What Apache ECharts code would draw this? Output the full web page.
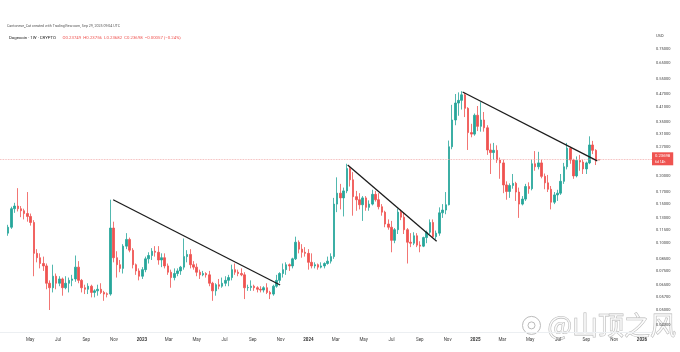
<!DOCTYPE html>
<html>
<head>
<meta charset="utf-8">
<title>Dogecoin 1W</title>
<script src="https://cdn.jsdelivr.net/npm/echarts@6/dist/echarts.min.js"></script>
<style>
  html, body { margin: 0; padding: 0; background: #fff; }
  #chart { width: 680px; height: 352px; }
</style>
</head>
<body>
<div id="chart"></div>
<script>
// weekly candles: [week start, open, close, low, high]
var candles = [
    ['2022-03-14', 0.111, 0.118, 0.108, 0.121],
    ['2022-03-21', 0.118, 0.143, 0.116, 0.146],
    ['2022-03-28', 0.143, 0.147, 0.137, 0.152],
    ['2022-04-04', 0.147, 0.143, 0.139, 0.177],
    ['2022-04-11', 0.143, 0.140, 0.131, 0.147],
    ['2022-04-18', 0.140, 0.136, 0.128, 0.143],
    ['2022-04-25', 0.136, 0.132, 0.125, 0.170],
    ['2022-05-02', 0.132, 0.124, 0.120, 0.136],
    ['2022-05-09', 0.124, 0.090, 0.071, 0.127],
    ['2022-05-16', 0.090, 0.086, 0.082, 0.094],
    ['2022-05-23', 0.086, 0.081, 0.077, 0.090],
    ['2022-05-30', 0.081, 0.079, 0.075, 0.087],
    ['2022-06-06', 0.079, 0.066, 0.062, 0.081],
    ['2022-06-13', 0.066, 0.063, 0.050, 0.068],
    ['2022-06-20', 0.063, 0.071, 0.060, 0.080],
    ['2022-06-27', 0.071, 0.066, 0.062, 0.073],
    ['2022-07-04', 0.066, 0.069, 0.064, 0.071],
    ['2022-07-11', 0.069, 0.063, 0.058, 0.070],
    ['2022-07-18', 0.063, 0.066, 0.062, 0.071],
    ['2022-07-25', 0.066, 0.068, 0.060, 0.070],
    ['2022-08-01', 0.068, 0.069, 0.064, 0.072],
    ['2022-08-08', 0.069, 0.078, 0.067, 0.088],
    ['2022-08-15', 0.078, 0.068, 0.066, 0.083],
    ['2022-08-22', 0.068, 0.063, 0.060, 0.069],
    ['2022-08-29', 0.063, 0.062, 0.059, 0.065],
    ['2022-09-05', 0.062, 0.064, 0.059, 0.066],
    ['2022-09-12', 0.064, 0.060, 0.057, 0.065],
    ['2022-09-19', 0.060, 0.061, 0.057, 0.062],
    ['2022-09-26', 0.061, 0.062, 0.058, 0.065],
    ['2022-10-03', 0.062, 0.060, 0.059, 0.066],
    ['2022-10-10', 0.060, 0.059, 0.055, 0.061],
    ['2022-10-17', 0.0592, 0.0588, 0.057, 0.060],
    ['2022-10-24', 0.059, 0.117, 0.058, 0.157],
    ['2022-10-31', 0.117, 0.086, 0.082, 0.125],
    ['2022-11-07', 0.086, 0.080, 0.070, 0.092],
    ['2022-11-14', 0.080, 0.077, 0.074, 0.084],
    ['2022-11-21', 0.077, 0.097, 0.073, 0.099],
    ['2022-11-28', 0.097, 0.104, 0.094, 0.111],
    ['2022-12-05', 0.104, 0.093, 0.091, 0.106],
    ['2022-12-12', 0.093, 0.080, 0.077, 0.095],
    ['2022-12-19', 0.080, 0.075, 0.072, 0.081],
    ['2022-12-26', 0.075, 0.071, 0.068, 0.077],
    ['2023-01-02', 0.071, 0.076, 0.069, 0.078],
    ['2023-01-09', 0.076, 0.085, 0.074, 0.087],
    ['2023-01-16', 0.085, 0.088, 0.081, 0.091],
    ['2023-01-23', 0.088, 0.092, 0.084, 0.095],
    ['2023-01-30', 0.092, 0.091, 0.087, 0.097],
    ['2023-02-06', 0.091, 0.084, 0.080, 0.097],
    ['2023-02-13', 0.084, 0.086, 0.078, 0.090],
    ['2023-02-20', 0.086, 0.079, 0.077, 0.090],
    ['2023-02-27', 0.079, 0.074, 0.072, 0.081],
    ['2023-03-06', 0.074, 0.070, 0.063, 0.076],
    ['2023-03-13', 0.070, 0.073, 0.068, 0.077],
    ['2023-03-20', 0.073, 0.075, 0.071, 0.077],
    ['2023-03-27', 0.075, 0.078, 0.072, 0.079],
    ['2023-04-03', 0.078, 0.087, 0.076, 0.105],
    ['2023-04-10', 0.087, 0.089, 0.082, 0.093],
    ['2023-04-17', 0.089, 0.080, 0.077, 0.094],
    ['2023-04-24', 0.080, 0.078, 0.076, 0.083],
    ['2023-05-01', 0.078, 0.074, 0.071, 0.081],
    ['2023-05-08', 0.074, 0.072, 0.069, 0.076],
    ['2023-05-15', 0.072, 0.073, 0.071, 0.075],
    ['2023-05-22', 0.073, 0.072, 0.070, 0.074],
    ['2023-05-29', 0.072, 0.066, 0.064, 0.075],
    ['2023-06-05', 0.066, 0.061, 0.055, 0.067],
    ['2023-06-12', 0.061, 0.065, 0.058, 0.066],
    ['2023-06-19', 0.065, 0.064, 0.062, 0.069],
    ['2023-06-26', 0.064, 0.066, 0.063, 0.070],
    ['2023-07-03', 0.066, 0.068, 0.064, 0.071],
    ['2023-07-10', 0.068, 0.070, 0.064, 0.072],
    ['2023-07-17', 0.070, 0.076, 0.068, 0.080],
    ['2023-07-24', 0.076, 0.074, 0.072, 0.081],
    ['2023-07-31', 0.074, 0.073, 0.071, 0.076],
    ['2023-08-07', 0.073, 0.072, 0.071, 0.077],
    ['2023-08-14', 0.072, 0.063, 0.056, 0.074],
    ['2023-08-21', 0.063, 0.0632, 0.061, 0.065],
    ['2023-08-28', 0.0632, 0.064, 0.061, 0.068],
    ['2023-09-04', 0.064, 0.063, 0.061, 0.065],
    ['2023-09-11', 0.063, 0.062, 0.060, 0.064],
    ['2023-09-18', 0.062, 0.0615, 0.060, 0.064],
    ['2023-09-25', 0.0615, 0.063, 0.060, 0.064],
    ['2023-10-02', 0.063, 0.060, 0.059, 0.066],
    ['2023-10-09', 0.060, 0.059, 0.056, 0.061],
    ['2023-10-16', 0.059, 0.064, 0.058, 0.065],
    ['2023-10-23', 0.064, 0.068, 0.063, 0.072],
    ['2023-10-30', 0.068, 0.073, 0.066, 0.074],
    ['2023-11-06', 0.073, 0.076, 0.070, 0.081],
    ['2023-11-13', 0.076, 0.080, 0.072, 0.082],
    ['2023-11-20', 0.080, 0.079, 0.075, 0.081],
    ['2023-11-27', 0.079, 0.085, 0.077, 0.086],
    ['2023-12-04', 0.085, 0.101, 0.084, 0.107],
    ['2023-12-11', 0.101, 0.094, 0.090, 0.103],
    ['2023-12-18', 0.094, 0.091, 0.086, 0.099],
    ['2023-12-25', 0.091, 0.090, 0.087, 0.096],
    ['2024-01-01', 0.090, 0.082, 0.076, 0.094],
    ['2024-01-08', 0.082, 0.079, 0.077, 0.090],
    ['2024-01-15', 0.079, 0.080, 0.077, 0.082],
    ['2024-01-22', 0.080, 0.078, 0.076, 0.081],
    ['2024-01-29', 0.078, 0.079, 0.077, 0.082],
    ['2024-02-05', 0.079, 0.081, 0.077, 0.082],
    ['2024-02-12', 0.081, 0.083, 0.080, 0.087],
    ['2024-02-19', 0.083, 0.087, 0.081, 0.090],
    ['2024-02-26', 0.087, 0.150, 0.085, 0.160],
    ['2024-03-04', 0.150, 0.168, 0.138, 0.198],
    ['2024-03-11', 0.168, 0.160, 0.142, 0.185],
    ['2024-03-18', 0.160, 0.172, 0.132, 0.178],
    ['2024-03-25', 0.172, 0.217, 0.168, 0.228],
    ['2024-04-01', 0.217, 0.193, 0.180, 0.221],
    ['2024-04-08', 0.193, 0.162, 0.133, 0.209],
    ['2024-04-15', 0.162, 0.157, 0.140, 0.172],
    ['2024-04-22', 0.157, 0.149, 0.142, 0.168],
    ['2024-04-29', 0.149, 0.160, 0.126, 0.163],
    ['2024-05-06', 0.160, 0.145, 0.140, 0.163],
    ['2024-05-13', 0.145, 0.150, 0.140, 0.156],
    ['2024-05-20', 0.150, 0.166, 0.148, 0.174],
    ['2024-05-27', 0.166, 0.157, 0.154, 0.172],
    ['2024-06-03', 0.157, 0.146, 0.142, 0.168],
    ['2024-06-10', 0.146, 0.138, 0.133, 0.150],
    ['2024-06-17', 0.138, 0.122, 0.118, 0.140],
    ['2024-06-24', 0.122, 0.118, 0.115, 0.128],
    ['2024-07-01', 0.118, 0.103, 0.091, 0.126],
    ['2024-07-08', 0.103, 0.115, 0.100, 0.117],
    ['2024-07-15', 0.115, 0.138, 0.110, 0.143],
    ['2024-07-22', 0.138, 0.131, 0.127, 0.142],
    ['2024-07-29', 0.131, 0.115, 0.110, 0.138],
    ['2024-08-05', 0.115, 0.101, 0.081, 0.117],
    ['2024-08-12', 0.101, 0.100, 0.096, 0.111],
    ['2024-08-19', 0.100, 0.108, 0.098, 0.112],
    ['2024-08-26', 0.108, 0.098, 0.096, 0.111],
    ['2024-09-02', 0.098, 0.097, 0.091, 0.102],
    ['2024-09-09', 0.097, 0.106, 0.096, 0.107],
    ['2024-09-16', 0.106, 0.112, 0.100, 0.114],
    ['2024-09-23', 0.112, 0.124, 0.110, 0.128],
    ['2024-09-30', 0.124, 0.107, 0.106, 0.128],
    ['2024-10-07', 0.107, 0.111, 0.104, 0.114],
    ['2024-10-14', 0.111, 0.137, 0.108, 0.145],
    ['2024-10-21', 0.137, 0.141, 0.130, 0.150],
    ['2024-10-28', 0.141, 0.149, 0.135, 0.170],
    ['2024-11-04', 0.149, 0.272, 0.148, 0.290],
    ['2024-11-11', 0.272, 0.359, 0.265, 0.420],
    ['2024-11-18', 0.359, 0.428, 0.340, 0.470],
    ['2024-11-25', 0.428, 0.440, 0.375, 0.478],
    ['2024-12-02', 0.440, 0.466, 0.400, 0.484],
    ['2024-12-09', 0.466, 0.405, 0.370, 0.476],
    ['2024-12-16', 0.405, 0.315, 0.263, 0.410],
    ['2024-12-23', 0.315, 0.310, 0.300, 0.345],
    ['2024-12-30', 0.310, 0.377, 0.305, 0.384],
    ['2025-01-06', 0.377, 0.336, 0.320, 0.415],
    ['2025-01-13', 0.336, 0.359, 0.318, 0.432],
    ['2025-01-20', 0.359, 0.331, 0.318, 0.390],
    ['2025-01-27', 0.331, 0.263, 0.250, 0.340],
    ['2025-02-03', 0.263, 0.256, 0.205, 0.281],
    ['2025-02-10', 0.256, 0.262, 0.238, 0.283],
    ['2025-02-17', 0.262, 0.237, 0.230, 0.276],
    ['2025-02-24', 0.237, 0.230, 0.195, 0.243],
    ['2025-03-03', 0.230, 0.183, 0.168, 0.238],
    ['2025-03-10', 0.183, 0.171, 0.157, 0.190],
    ['2025-03-17', 0.171, 0.182, 0.160, 0.186],
    ['2025-03-24', 0.182, 0.186, 0.176, 0.205],
    ['2025-03-31', 0.186, 0.170, 0.155, 0.189],
    ['2025-04-07', 0.170, 0.150, 0.130, 0.178],
    ['2025-04-14', 0.150, 0.158, 0.148, 0.163],
    ['2025-04-21', 0.158, 0.180, 0.155, 0.185],
    ['2025-04-28', 0.180, 0.176, 0.167, 0.188],
    ['2025-05-05', 0.176, 0.228, 0.173, 0.238],
    ['2025-05-12', 0.228, 0.221, 0.212, 0.260],
    ['2025-05-19', 0.221, 0.230, 0.215, 0.258],
    ['2025-05-26', 0.230, 0.200, 0.196, 0.238],
    ['2025-06-02', 0.200, 0.187, 0.175, 0.206],
    ['2025-06-09', 0.187, 0.175, 0.170, 0.203],
    ['2025-06-16', 0.175, 0.153, 0.142, 0.181],
    ['2025-06-23', 0.153, 0.165, 0.150, 0.170],
    ['2025-06-30', 0.165, 0.168, 0.155, 0.174],
    ['2025-07-07', 0.168, 0.190, 0.165, 0.205],
    ['2025-07-14', 0.190, 0.221, 0.185, 0.230],
    ['2025-07-21', 0.221, 0.268, 0.215, 0.283],
    ['2025-07-28', 0.268, 0.237, 0.228, 0.272],
    ['2025-08-04', 0.237, 0.201, 0.195, 0.240],
    ['2025-08-11', 0.201, 0.236, 0.198, 0.246],
    ['2025-08-18', 0.236, 0.232, 0.212, 0.250],
    ['2025-08-25', 0.232, 0.216, 0.205, 0.238],
    ['2025-09-01', 0.216, 0.230, 0.205, 0.233],
    ['2025-09-08', 0.230, 0.277, 0.227, 0.303],
    ['2025-09-15', 0.277, 0.262, 0.252, 0.289],
    ['2025-09-22', 0.262, 0.2375, 0.225, 0.265],
    ['2025-09-29', 0.23749, 0.23698, 0.23682, 0.23756]
];

// hand drawn trend lines: [date, price]
var trendA = [['2022-10-30', 0.157], ['2023-10-31', 0.0648]];
var trendB = [['2024-03-27', 0.225], ['2024-10-08', 0.102]];
var trendC = [['2024-12-04', 0.480], ['2025-09-25', 0.235]];

var priceTicks = [0.75, 0.65, 0.55, 0.47, 0.41, 0.35, 0.31, 0.27, 0.20, 0.17, 0.15,
    0.13, 0.115, 0.10, 0.085, 0.075, 0.065, 0.057, 0.05, 0.043];

var timeTicks = ['2022-05-01', '2022-07-01', '2022-09-01', '2022-11-01', '2023-01-01',
    '2023-03-01', '2023-05-01', '2023-07-01', '2023-09-01', '2023-11-01', '2024-01-01',
    '2024-03-01', '2024-05-01', '2024-07-01', '2024-09-01', '2024-11-01', '2025-01-01',
    '2025-03-01', '2025-05-01', '2025-07-01', '2025-09-01', '2025-11-01', '2026-01-01'];

var monthNames = ['Jan', 'Feb', 'Mar', 'Apr', 'May', 'Jun', 'Jul', 'Aug', 'Sep', 'Oct', 'Nov', 'Dec'];

var upColor = '#26a69a';
var downColor = '#ef5350';
var font = 'Roboto';

var lastClose = candles[candles.length - 1][2];

function ms(dateStr) {
    return new Date(dateStr + 'T00:00:00Z').getTime();
}

var candleData = candles.map(function (c) {
    return [ms(c[0]), c[1], c[2], c[3], c[4]];
});

function trendSeries(points) {
    return {
        type: 'line',
        data: points.map(function (p) { return [ms(p[0]), p[1]]; }),
        symbol: 'none',
        silent: true,
        z: 5,
        lineStyle: { color: '#1c1c1c', width: 1.3 }
    };
}

var chart = echarts.init(document.getElementById('chart'));

var option = {
    animation: false,
    backgroundColor: '#fff',
    grid: { left: 0, right: 28, top: 22, bottom: 20 },
    xAxis: {
        type: 'value',
        min: ms('2022-02-24'),
        max: ms('2026-01-23'),
        axisLine: { show: true, lineStyle: { color: '#eceff2' } },
        axisTick: { show: false },
        splitLine: { show: false },
        axisLabel: {
            customValues: timeTicks.map(ms),
            margin: 5,
            fontSize: 4.5,
            fontFamily: font,
            color: '#444',
            formatter: function (value) {
                var d = new Date(value);
                if (d.getUTCMonth() === 0) {
                    return '{y|' + d.getUTCFullYear() + '}';
                }
                return monthNames[d.getUTCMonth()];
            },
            rich: {
                y: { fontSize: 4.5, fontWeight: 'bold', fontFamily: font, color: '#333' }
            }
        }
    },
    yAxis: {
        type: 'log',
        logBase: 10,
        min: 0.0398,
        max: 0.992,
        position: 'right',
        axisLine: { show: false },
        axisTick: { show: false },
        splitLine: { show: false },
        axisLabel: {
            customValues: priceTicks,
            margin: 4,
            fontSize: 4,
            fontFamily: font,
            color: '#444',
            formatter: function (value) {
                return Number(value).toFixed(5);
            }
        }
    },
    series: [
        {
            type: 'candlestick',
            data: candleData,
            barWidth: 2,
            itemStyle: {
                color: upColor,
                color0: downColor,
                borderColor: upColor,
                borderColor0: downColor,
                borderWidth: 0.8
            },
            markLine: {
                symbol: 'none',
                silent: true,
                data: [{ yAxis: lastClose }],
                lineStyle: { color: '#f0a3a3', type: 'dotted', width: 0.8 },
                label: {
                    show: true,
                    position: 'end',
                    distance: 0,
                    formatter: '{p|' + lastClose.toFixed(5) + '}\n{t|6d 14h}',
                    backgroundColor: downColor,
                    padding: [1, 3],
                    rich: {
                        p: { fontSize: 4.2, fontFamily: font, color: '#fff', lineHeight: 6 },
                        t: { fontSize: 3.4, fontFamily: font, color: '#fff', lineHeight: 5 }
                    }
                }
            }
        },
        trendSeries(trendA),
        trendSeries(trendB),
        trendSeries(trendC)
    ],
    graphic: [
        {
            type: 'text', left: 7, top: 24,
            style: {
                text: 'Cantonese_Cat created with TradingView.com, Sep 29, 2025 09:04 UTC',
                fontSize: 3.6, fontFamily: font, fill: '#555'
            }
        },
        {
            type: 'text', left: 9, top: 32,
            style: {
                text: '{a|Dogecoin · 1W · CRYPTO}  {b|O0.23749  H0.23756  L0.23682  C0.23698  −0.00057 (−0.24%)}',
                rich: {
                    a: { fontSize: 4.3, fontFamily: font, fill: '#222' },
                    b: { fontSize: 4.3, fontFamily: font, fill: downColor }
                }
            }
        },
        {
            type: 'text', left: 656, top: 34,
            style: { text: 'USD', fontSize: 4, fontFamily: font, fill: '#444' }
        },
        {
            type: 'group', left: 522, top: 312,
            children: [
                {
                    type: 'circle', shape: { cx: 12, cy: 15, r: 9 },
                    style: { fill: 'rgba(255,255,255,0.5)', stroke: '#bbb', lineWidth: 1 }
                },
                {
                    type: 'circle', shape: { cx: 12, cy: 15, r: 3.5 },
                    style: { fill: 'none', stroke: '#bbb', lineWidth: 1 }
                },
                {
                    type: 'text', x: 28, y: 2,
                    style: {
                        text: '@山顶之风',
                        fontSize: 26, fontFamily: 'Noto Sans CJK SC',
                        fill: 'rgba(255,255,255,0.55)', stroke: '#b5b5b5', lineWidth: 0.8
                    }
                }
            ]
        }
    ]
};

chart.setOption(option);
</script>
</body>
</html>
